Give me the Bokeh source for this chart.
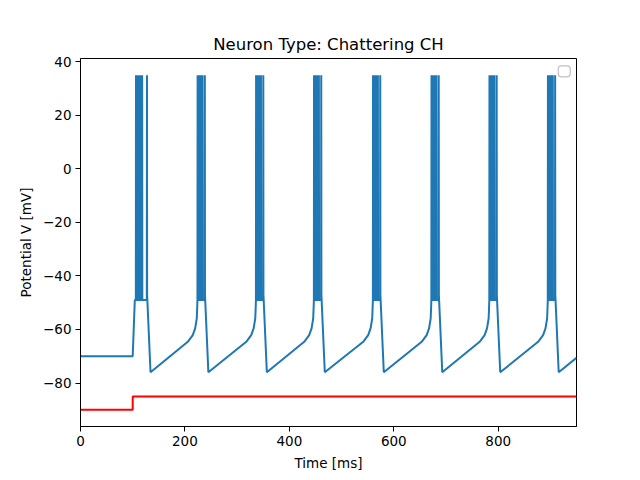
from bokeh.plotting import figure
from bokeh.models import BoxAnnotation, FixedTicker
from bokeh.embed import file_html
from bokeh.resources import INLINE

# values (time in ms, potential in mV)
rest_v = -70
onset = (104, -49)
peak_v = 35
base_v = -49
burst_start = [106, 224, 336, 447, 560, 672, 783, 895]
first_burst = [0, 0.8, 1.7, 2.5, 3.4, 4.3, 5.2, 6.2, 7.2, 8.3, 9.4, 10.6, 11.8, 21.0]
burst_offsets = [0, 0.8, 1.6, 2.5, 3.3, 4.2, 5.1, 6.1, 7.1, 8.2, 9.3, 13.8]
post_dt = [0, 6.5]          # after last spike of a burst
post_v = [-47, -76]
pre_dt = [-18.5, -9, -4.4, -1.3, -0.4]  # before the next burst
pre_v = [-64.6, -62.1, -59.6, -55.9, -51.5]
end_t, end_v = 950, -70.6

current_t = [0, 100, 950]
current_v = [-90, -85, -85]

# build the membrane trace from the read values
t, v = [0, 100], [rest_v, rest_v]
t.append(onset[0]); v.append(onset[1])
for i, t0 in enumerate(burst_start):
    offs = first_burst if i == 0 else burst_offsets
    if i > 0:
        for dt, pv in zip(pre_dt, pre_v):
            t.append(t0 + dt); v.append(pv)
    for o in offs:
        ts = t0 + o
        t += [ts, ts + 0.3, ts + 0.6]
        v += [base_v, peak_v, base_v]
    tl = t0 + offs[-1] + 0.6
    for dt, pv in zip(post_dt, post_v):
        t.append(tl + dt); v.append(pv)
t.append(end_t); v.append(end_v)

p = figure(width=640, height=480, output_backend="svg", toolbar_location=None,
           x_range=(0, 950), y_range=(-96.25, 41.25),
           min_border_left=80, min_border_right=64, min_border_top=58, min_border_bottom=54,
           title="Neuron Type: Chattering CH")

p.line(t, v, line_color="#1f77b4", line_width=2)
p.step(current_t, current_v, mode="after", line_color="red", line_width=2)

# empty legend box like the reference
p.add_layout(BoxAnnotation(left=915, right=938, bottom=34.4, top=38.5,
                           fill_color="white", fill_alpha=0.8,
                           line_color="#c0c0c0", line_alpha=1, line_width=1.2,
                           border_radius=3))

p.title.align = "center"
p.title.text_font = "DejaVu Sans"
p.title.text_font_style = "normal"
p.title.text_font_size = "16.5px"
p.title.text_color = "black"

p.xgrid.visible = False
p.ygrid.visible = False
p.outline_line_color = "black"
p.outline_line_alpha = 1
p.outline_line_width = 1

p.xaxis.ticker = FixedTicker(ticks=[0, 200, 400, 600, 800])
p.yaxis.ticker = FixedTicker(ticks=[-80, -60, -40, -20, 0, 20, 40])
p.xaxis.axis_label = "Time [ms]"
p.yaxis.axis_label = "Potential V [mV]"
for ax in (p.xaxis, p.yaxis):
    ax.axis_line_color = "black"
    ax.major_tick_out = 5
    ax.major_tick_in = 0
    ax.minor_tick_line_color = None
    ax.major_tick_line_color = "black"
    ax.major_label_text_font = "DejaVu Sans"
    ax.major_label_text_font_size = "13.5px"
    ax.major_label_text_color = "black"
    ax.axis_label_text_font = "DejaVu Sans"
    ax.axis_label_text_font_size = "13.5px"
    ax.axis_label_text_font_style = "normal"
    ax.axis_label_text_color = "black"
    ax.major_label_standoff = 4
    ax.axis_label_standoff = 6
p.yaxis.major_label_orientation = "horizontal"

open("out.html", "w").write(file_html(p, INLINE))
